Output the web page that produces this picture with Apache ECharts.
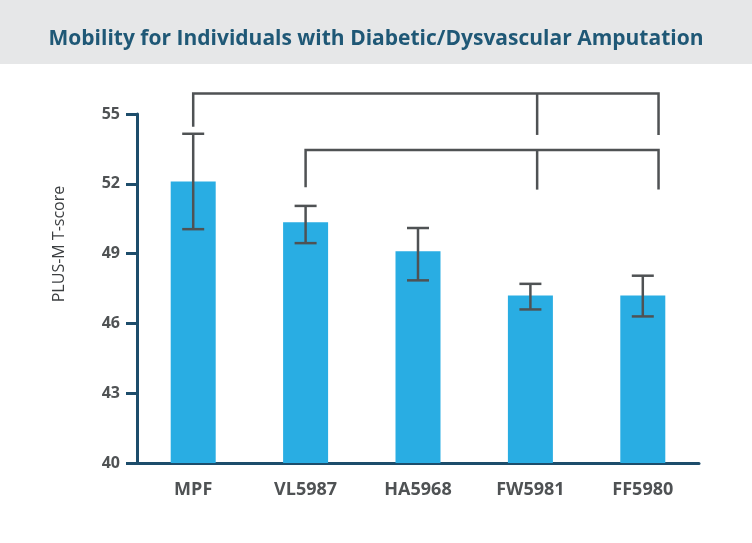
<!DOCTYPE html>
<html><head><meta charset="utf-8">
<script src="https://cdn.jsdelivr.net/npm/echarts@6/dist/echarts.min.js"></script>
<style>html,body{margin:0;padding:0;background:#fff}#c{width:752px;height:543px}</style>
</head><body><div id="c"></div>
<script>
const categories = ['MPF', 'VL5987', 'HA5968', 'FW5981', 'FF5980'];
const means = [52.1, 50.35, 49.1, 47.2, 47.2];
const errLow = [50.05, 49.45, 47.85, 46.6, 46.3];
const errHigh = [54.15, 51.05, 50.1, 47.7, 48.05];
const yTicks = [40, 43, 46, 49, 52, 55];
// significance brackets
const bracketFrom = [0, 1];
const bracketMid = [3, 3];
const bracketTo = [4, 4];
const bracketLevel = [55.88, 53.45];
const bracketFromEnd = [54.45, 51.85];
const bracketRightEnd = [54.1, 51.75];

const chart = echarts.init(document.getElementById('c'));
const axisColor = '#1d4d6b';
const markColor = '#4f5254';
const FONT = 'Open Sans';

const option = {
  animation: false,
  textStyle: { fontFamily: FONT },
  graphic: [{
    type: 'rect', left: 0, top: 0, z: -10,
    shape: { width: 752, height: 64 },
    style: { fill: '#e6e7e8' }
  }, {
    type: 'text', x: 59, y: 244, rotation: Math.PI / 2,
    style: { text: 'PLUS-M T-score', align: 'center', verticalAlign: 'middle',
      fontFamily: FONT, fontSize: 16, fill: '#3c3f41' }
  }],
  title: {
    text: 'Mobility for Individuals with Diabetic/Dysvascular Amputation',
    left: 'center', top: 24,
    textStyle: { fontFamily: FONT, fontWeight: 'bold', fontSize: 21, color: '#1f5876' }
  },
  grid: { left: 137, right: 53, top: 114, bottom: 80, containLabel: false },
  xAxis: {
    type: 'category', data: categories,
    axisLine: { lineStyle: { color: axisColor, width: 3 } },
    axisTick: { show: false },
    axisLabel: { margin: 18, fontFamily: FONT, fontWeight: 'bold', fontSize: 18, color: '#4f5254' }
  },
  yAxis: {
    type: 'value', min: yTicks[0], max: yTicks[yTicks.length - 1], interval: 3,
    axisLine: { show: true, lineStyle: { color: axisColor, width: 3 } },
    axisTick: { show: true, length: 11, lineStyle: { color: axisColor, width: 3 } },
    splitLine: { show: false },
    axisLabel: { margin: 17, fontFamily: FONT, fontWeight: 'bold', fontSize: 16, color: '#4f5254' }
  },
  series: [
    {
      type: 'bar', data: means, barWidth: 45,
      itemStyle: { color: '#29ade3' }, z: 2
    },
    {
      type: 'custom', z: 5,
      data: categories.map((c, i) => [i, errLow[i], errHigh[i]]),
      renderItem: function (params, api) {
        const lo = api.coord([api.value(0), api.value(1)]);
        const hi = api.coord([api.value(0), api.value(2)]);
        const w = 11;
        const st = { stroke: markColor, lineWidth: 2.5 };
        return { type: 'group', children: [
          { type: 'line', shape: { x1: hi[0], y1: hi[1], x2: lo[0], y2: lo[1] }, style: st },
          { type: 'line', shape: { x1: hi[0] - w, y1: hi[1], x2: hi[0] + w, y2: hi[1] }, style: st },
          { type: 'line', shape: { x1: lo[0] - w, y1: lo[1], x2: lo[0] + w, y2: lo[1] }, style: st }
        ]};
      }
    },
    {
      type: 'custom', z: 5, clip: false,
      data: bracketFrom.map((f, i) => [f, bracketMid[i], bracketTo[i], bracketLevel[i], bracketFromEnd[i], bracketRightEnd[i]]),
      renderItem: function (params, api) {
        const band = api.size([1, 0])[0];
        const a = api.coord([api.value(0), api.value(3)]);
        const aEnd = api.coord([api.value(0), api.value(4)]);
        const m = api.coord([api.value(1), api.value(3)]);
        const mEnd = api.coord([api.value(1), api.value(5)]);
        const b = api.coord([api.value(2), api.value(3)]);
        const bEnd = api.coord([api.value(2), api.value(5)]);
        const mx = m[0] + band * 0.06, bx = b[0] + band * 0.14;
        const st = { stroke: markColor, lineWidth: 2.5, fill: null };
        return { type: 'group', children: [
          { type: 'polyline', shape: { points: [[a[0], aEnd[1]], [a[0], a[1]], [bx, b[1]], [bx, bEnd[1]]] }, style: st },
          { type: 'line', shape: { x1: mx, y1: m[1], x2: mx, y2: mEnd[1] }, style: st }
        ]};
      }
    }
  ]
};
chart.setOption(option);
</script>
</body></html>
